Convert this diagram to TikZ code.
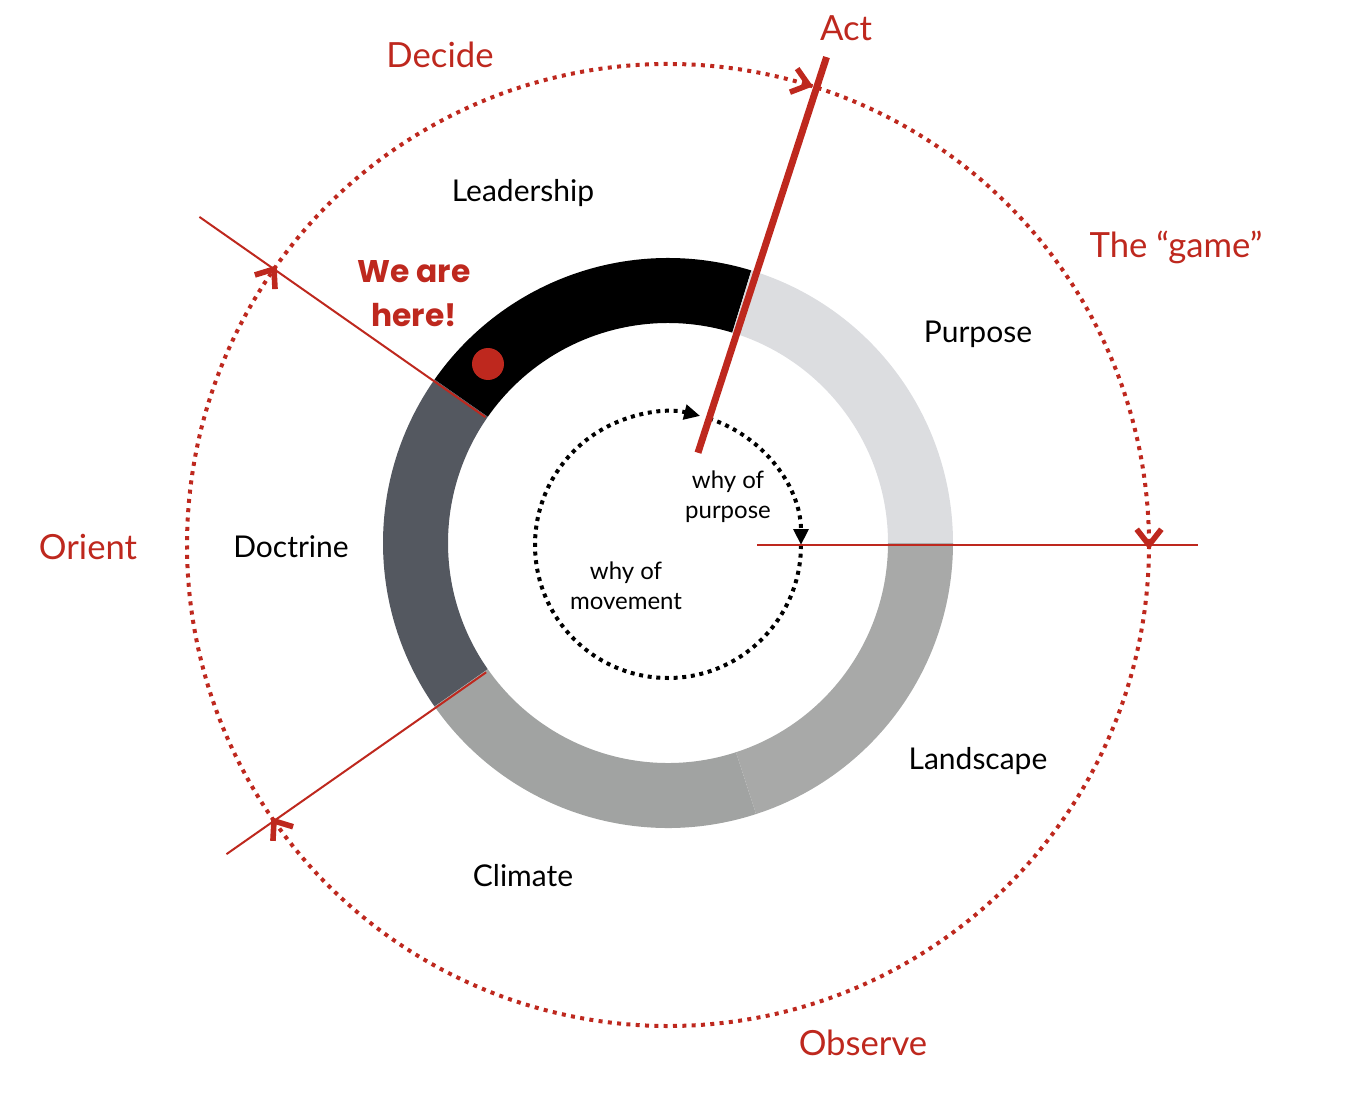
\documentclass[tikz,border=0pt]{standalone}
\usepackage{fontspec}
\setmainfont{Lato}
\newfontfamily\herefont{Poppins}
\usetikzlibrary{arrows.meta}
\definecolor{gamered}{RGB}{190,40,30}
\definecolor{leadcol}{RGB}{0,0,0}
\definecolor{doccol}{RGB}{84,88,96}
\definecolor{climcol}{RGB}{161,163,162}
\definecolor{landcol}{RGB}{168,169,168}
\definecolor{purpcol}{RGB}{220,221,224}
\tikzstyle{gamelabel}=[text=gamered,font=\fontsize{26}{30}\selectfont]
\tikzstyle{arealabel}=[text=black,font=\fontsize{22.5}{26}\selectfont]
\tikzstyle{whylabel}=[align=center,font=\fontsize{18}{22.5}\selectfont]
\tikzstyle{gamearc}=[draw=gamered,line width=3pt,dash pattern=on 3pt off 4pt]
\tikzstyle{gamebarb}=[draw=gamered,line width=4.2pt,line join=miter,miter limit=4]
\tikzstyle{whyarc}=[draw=black,line width=3pt,dash pattern=on 3pt off 3.5pt,-{Triangle[length=12pt,width=11pt]}]
\tikzstyle{cut}=[draw=gamered,line width=1.5pt]

\begin{document}
\begin{tikzpicture}[x=0.75pt,y=0.75pt]
    \useasboundingbox (-668,-572) rectangle (690,545);
    % The ring of five areas
    \begin{scope}[shift={(0,2)}]
    \foreach \a/\b/\col in {73/145/leadcol, 145/215/doccol, 215/288/climcol, 288/360/landcol, 0/73/purpcol}
        \fill[\col] (\a:285) arc[start angle=\a, end angle=\b, radius=285] -- (\b:220) arc[start angle=\b, end angle=\a, radius=220] -- cycle;
    \end{scope}

    % Outer loop, one arc per step, with a barb at its end
    \foreach \a/\b in {145/73, 73/0, 0/-145, 215/145}{
        \path[gamearc] (\a:481) arc[start angle=\a, end angle=\b, radius=481];
        \coordinate (tip) at (\b:481);
        \pgfmathsetmacro\ba{\b+90+38}
        \pgfmathsetmacro\bb{\b+90-38}
        \path[gamebarb] ([shift={(tip)}]\ba:20) -- (tip) -- ([shift={(tip)}]\bb:20);
    }

    % Inner loop
    \path[whyarc] (72:133) arc[start angle=72, end angle=0, radius=133];
    \path[whyarc] (0:133) arc[start angle=0, end angle=-284, radius=133];

    % Cuts between the steps
    \foreach \ang/\rin/\rout in {145/223/572, 215/222/539, 0/89/530}
        \path[cut] (\ang:\rin) -- (\ang:\rout);
    \coordinate (actin) at (72:97);
    \coordinate (actout) at (72:513);
    \draw[gamered,line width=5.2pt] (actin) -- (actout);

    % Labels of the steps
    \foreach \pos/\name/\txt in {{(-228,490)/decide/Decide}, {(178,517)/act/Act}, {(508,298)/game/The “game”}, {(-580,-2)/orient/Orient}, {(195,-498)/observe/Observe}}
        \node[gamelabel] (\name) at \pos {\txt};

    % Labels of the areas
    \foreach \pos/\name/\txt in {{(-145,352)/leadership/Leadership}, {(310,211)/purpose/Purpose}, {(-377,-2)/doctrine/Doctrine}, {(310,-216)/landscape/Landscape}, {(-145,-331)/climate/Climate}}
        \node[arealabel] (\name) at \pos {\txt};

    \node[whylabel] (whypurpose) at (60,48) {why of\\purpose};
    \node[whylabel] (whymovement) at (-42,-41) {why of\\movement};

    % We are here
    \node[circle,fill=gamered,minimum size=24pt,inner sep=0pt] (dot) at (-180,181) {};
    \node[text=gamered,align=center,font=\herefont\bfseries\fontsize{23.5}{33}\selectfont] (here) at (-254,251) {We are\\here!};
\end{tikzpicture}
\end{document}
